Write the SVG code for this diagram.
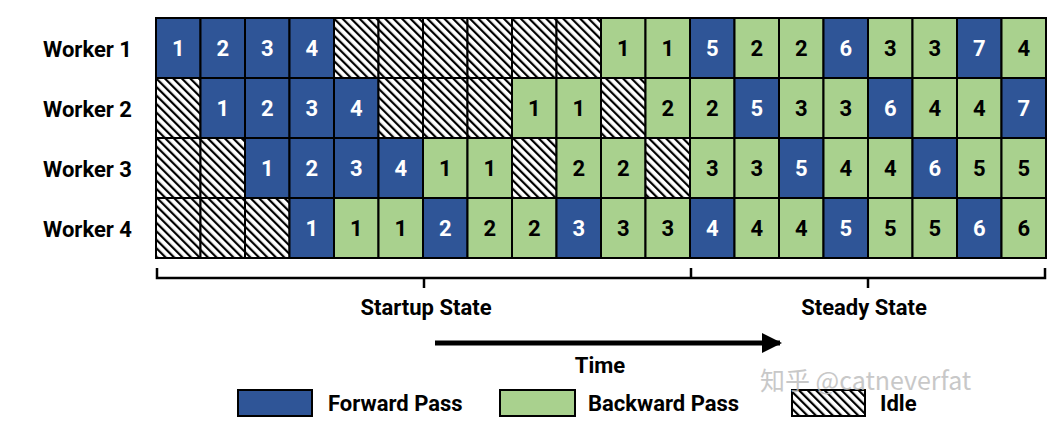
<svg xmlns="http://www.w3.org/2000/svg" width="1063" height="431" viewBox="0 0 1063 431">
<style>
.f{fill:#2F5597;stroke:#000;stroke-width:2}
.b{fill:#A9D18E;stroke:#000;stroke-width:2}
.i{fill:url(#h);stroke:#000;stroke-width:2}
text{font-family:Roboto,"Liberation Sans",sans-serif;font-weight:bold}
.n{font-size:22px;text-anchor:middle}
.nf{fill:#fff}
.l{font-size:22px;text-anchor:end}
.lg{font-size:22px}
</style>
<defs>
<pattern id="h" width="6" height="6" patternUnits="userSpaceOnUse" patternTransform="rotate(-45)">
<rect width="6" height="6" fill="#fff"/><rect x="0" y="0" width="2.2" height="6" fill="#000"/>
</pattern>
<marker id="ar" viewBox="0 0 10 10" refX="9" refY="5" markerWidth="4" markerHeight="4" orient="auto"><path d="M0,0L10,5L0,10z" fill="#000"/></marker>
</defs>
<rect width="1063" height="431" fill="#fff"/>
<g id="labels">
<text class="l" x="132" y="57">Worker 1</text>
<text class="l" x="132" y="117">Worker 2</text>
<text class="l" x="132" y="177">Worker 3</text>
<text class="l" x="132" y="237">Worker 4</text>
</g>
<g id="worker1">
<rect class="f" x="156" y="18" width="44.5" height="60"/><text class="n nf" x="178.25" y="56">1</text>
<rect class="f" x="200.5" y="18" width="44.5" height="60"/><text class="n nf" x="222.75" y="56">2</text>
<rect class="f" x="245" y="18" width="44.5" height="60"/><text class="n nf" x="267.25" y="56">3</text>
<rect class="f" x="289.5" y="18" width="44.5" height="60"/><text class="n nf" x="311.75" y="56">4</text>
<rect class="i" x="334" y="18" width="44.5" height="60"/>
<rect class="i" x="378.5" y="18" width="44.5" height="60"/>
<rect class="i" x="423" y="18" width="44.5" height="60"/>
<rect class="i" x="467.5" y="18" width="44.5" height="60"/>
<rect class="i" x="512" y="18" width="44.5" height="60"/>
<rect class="i" x="556.5" y="18" width="44.5" height="60"/>
<rect class="b" x="601" y="18" width="44.5" height="60"/><text class="n" x="623.25" y="56">1</text>
<rect class="b" x="645.5" y="18" width="44.5" height="60"/><text class="n" x="667.75" y="56">1</text>
<rect class="f" x="690" y="18" width="44.5" height="60"/><text class="n nf" x="712.25" y="56">5</text>
<rect class="b" x="734.5" y="18" width="44.5" height="60"/><text class="n" x="756.75" y="56">2</text>
<rect class="b" x="779" y="18" width="44.5" height="60"/><text class="n" x="801.25" y="56">2</text>
<rect class="f" x="823.5" y="18" width="44.5" height="60"/><text class="n nf" x="845.75" y="56">6</text>
<rect class="b" x="868" y="18" width="44.5" height="60"/><text class="n" x="890.25" y="56">3</text>
<rect class="b" x="912.5" y="18" width="44.5" height="60"/><text class="n" x="934.75" y="56">3</text>
<rect class="f" x="957" y="18" width="44.5" height="60"/><text class="n nf" x="979.25" y="56">7</text>
<rect class="b" x="1001.5" y="18" width="44.5" height="60"/><text class="n" x="1023.75" y="56">4</text>
</g>
<g id="worker2">
<rect class="i" x="156" y="78" width="44.5" height="60"/>
<rect class="f" x="200.5" y="78" width="44.5" height="60"/><text class="n nf" x="222.75" y="116">1</text>
<rect class="f" x="245" y="78" width="44.5" height="60"/><text class="n nf" x="267.25" y="116">2</text>
<rect class="f" x="289.5" y="78" width="44.5" height="60"/><text class="n nf" x="311.75" y="116">3</text>
<rect class="f" x="334" y="78" width="44.5" height="60"/><text class="n nf" x="356.25" y="116">4</text>
<rect class="i" x="378.5" y="78" width="44.5" height="60"/>
<rect class="i" x="423" y="78" width="44.5" height="60"/>
<rect class="i" x="467.5" y="78" width="44.5" height="60"/>
<rect class="b" x="512" y="78" width="44.5" height="60"/><text class="n" x="534.25" y="116">1</text>
<rect class="b" x="556.5" y="78" width="44.5" height="60"/><text class="n" x="578.75" y="116">1</text>
<rect class="i" x="601" y="78" width="44.5" height="60"/>
<rect class="b" x="645.5" y="78" width="44.5" height="60"/><text class="n" x="667.75" y="116">2</text>
<rect class="b" x="690" y="78" width="44.5" height="60"/><text class="n" x="712.25" y="116">2</text>
<rect class="f" x="734.5" y="78" width="44.5" height="60"/><text class="n nf" x="756.75" y="116">5</text>
<rect class="b" x="779" y="78" width="44.5" height="60"/><text class="n" x="801.25" y="116">3</text>
<rect class="b" x="823.5" y="78" width="44.5" height="60"/><text class="n" x="845.75" y="116">3</text>
<rect class="f" x="868" y="78" width="44.5" height="60"/><text class="n nf" x="890.25" y="116">6</text>
<rect class="b" x="912.5" y="78" width="44.5" height="60"/><text class="n" x="934.75" y="116">4</text>
<rect class="b" x="957" y="78" width="44.5" height="60"/><text class="n" x="979.25" y="116">4</text>
<rect class="f" x="1001.5" y="78" width="44.5" height="60"/><text class="n nf" x="1023.75" y="116">7</text>
</g>
<g id="worker3">
<rect class="i" x="156" y="138" width="44.5" height="60"/>
<rect class="i" x="200.5" y="138" width="44.5" height="60"/>
<rect class="f" x="245" y="138" width="44.5" height="60"/><text class="n nf" x="267.25" y="176">1</text>
<rect class="f" x="289.5" y="138" width="44.5" height="60"/><text class="n nf" x="311.75" y="176">2</text>
<rect class="f" x="334" y="138" width="44.5" height="60"/><text class="n nf" x="356.25" y="176">3</text>
<rect class="f" x="378.5" y="138" width="44.5" height="60"/><text class="n nf" x="400.75" y="176">4</text>
<rect class="b" x="423" y="138" width="44.5" height="60"/><text class="n" x="445.25" y="176">1</text>
<rect class="b" x="467.5" y="138" width="44.5" height="60"/><text class="n" x="489.75" y="176">1</text>
<rect class="i" x="512" y="138" width="44.5" height="60"/>
<rect class="b" x="556.5" y="138" width="44.5" height="60"/><text class="n" x="578.75" y="176">2</text>
<rect class="b" x="601" y="138" width="44.5" height="60"/><text class="n" x="623.25" y="176">2</text>
<rect class="i" x="645.5" y="138" width="44.5" height="60"/>
<rect class="b" x="690" y="138" width="44.5" height="60"/><text class="n" x="712.25" y="176">3</text>
<rect class="b" x="734.5" y="138" width="44.5" height="60"/><text class="n" x="756.75" y="176">3</text>
<rect class="f" x="779" y="138" width="44.5" height="60"/><text class="n nf" x="801.25" y="176">5</text>
<rect class="b" x="823.5" y="138" width="44.5" height="60"/><text class="n" x="845.75" y="176">4</text>
<rect class="b" x="868" y="138" width="44.5" height="60"/><text class="n" x="890.25" y="176">4</text>
<rect class="f" x="912.5" y="138" width="44.5" height="60"/><text class="n nf" x="934.75" y="176">6</text>
<rect class="b" x="957" y="138" width="44.5" height="60"/><text class="n" x="979.25" y="176">5</text>
<rect class="b" x="1001.5" y="138" width="44.5" height="60"/><text class="n" x="1023.75" y="176">5</text>
</g>
<g id="worker4">
<rect class="i" x="156" y="198" width="44.5" height="60"/>
<rect class="i" x="200.5" y="198" width="44.5" height="60"/>
<rect class="i" x="245" y="198" width="44.5" height="60"/>
<rect class="f" x="289.5" y="198" width="44.5" height="60"/><text class="n nf" x="311.75" y="236">1</text>
<rect class="b" x="334" y="198" width="44.5" height="60"/><text class="n" x="356.25" y="236">1</text>
<rect class="b" x="378.5" y="198" width="44.5" height="60"/><text class="n" x="400.75" y="236">1</text>
<rect class="f" x="423" y="198" width="44.5" height="60"/><text class="n nf" x="445.25" y="236">2</text>
<rect class="b" x="467.5" y="198" width="44.5" height="60"/><text class="n" x="489.75" y="236">2</text>
<rect class="b" x="512" y="198" width="44.5" height="60"/><text class="n" x="534.25" y="236">2</text>
<rect class="f" x="556.5" y="198" width="44.5" height="60"/><text class="n nf" x="578.75" y="236">3</text>
<rect class="b" x="601" y="198" width="44.5" height="60"/><text class="n" x="623.25" y="236">3</text>
<rect class="b" x="645.5" y="198" width="44.5" height="60"/><text class="n" x="667.75" y="236">3</text>
<rect class="f" x="690" y="198" width="44.5" height="60"/><text class="n nf" x="712.25" y="236">4</text>
<rect class="b" x="734.5" y="198" width="44.5" height="60"/><text class="n" x="756.75" y="236">4</text>
<rect class="b" x="779" y="198" width="44.5" height="60"/><text class="n" x="801.25" y="236">4</text>
<rect class="f" x="823.5" y="198" width="44.5" height="60"/><text class="n nf" x="845.75" y="236">5</text>
<rect class="b" x="868" y="198" width="44.5" height="60"/><text class="n" x="890.25" y="236">5</text>
<rect class="b" x="912.5" y="198" width="44.5" height="60"/><text class="n" x="934.75" y="236">5</text>
<rect class="f" x="957" y="198" width="44.5" height="60"/><text class="n nf" x="979.25" y="236">6</text>
<rect class="b" x="1001.5" y="198" width="44.5" height="60"/><text class="n" x="1023.75" y="236">6</text>
</g>
<g id="connectors" fill="none" stroke="#000" stroke-width="2.5">
<path d="M157,268V278H1045V268"/>
<path d="M691,268V278"/>
<path d="M424,278V288"/>
<path d="M868,278V288"/>
<path d="M435,343H780" stroke-width="5" marker-end="url(#ar)"/>
</g>
<g id="state-labels">
<text class="lg" x="426" y="315" text-anchor="middle">Startup State</text>
<text class="lg" x="864" y="315" text-anchor="middle">Steady State</text>
<text class="lg" x="600" y="373" text-anchor="middle">Time</text>
</g>
<g id="legend">
<rect class="f" x="238" y="390" width="74" height="26"/><text class="lg" x="328" y="411">Forward Pass</text>
<rect class="b" x="500" y="390" width="75" height="26"/><text class="lg" x="588" y="411">Backward Pass</text>
<rect class="i" x="792" y="390" width="73" height="26"/><text class="lg" x="880" y="411">Idle</text>
</g>
<text x="760" y="390" font-size="25" fill="#bbb" style="font-family:'Noto Sans CJK SC',sans-serif;font-weight:normal" opacity="0.8">知乎 @catneverfat</text>
</svg>
